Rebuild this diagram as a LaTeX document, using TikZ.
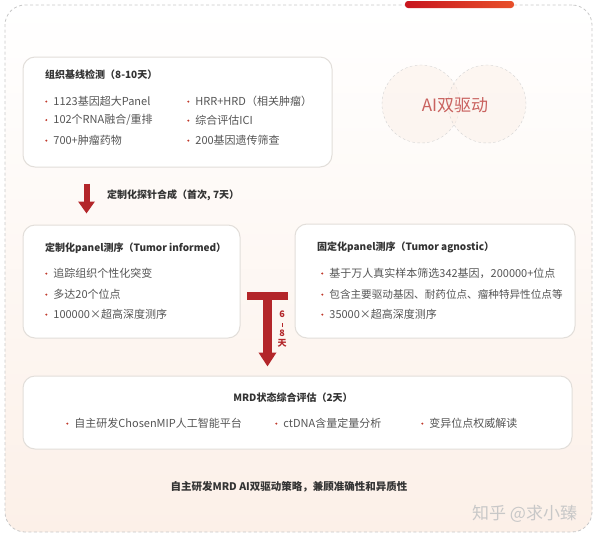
\documentclass[tikz,border=0pt]{standalone}
\usepackage{fontspec}
\setmainfont{Noto Sans CJK SC}
\usetikzlibrary{arrows.meta,positioning}

\definecolor{darkred}{HTML}{B3262A}
\definecolor{dotred}{HTML}{C0392B}
\definecolor{tabdark}{HTML}{C8161E}
\definecolor{taborange}{HTML}{E8502A}
\definecolor{airose}{HTML}{C9625F}
\definecolor{cream}{HTML}{FCF0E8}
\definecolor{framegray}{HTML}{C8C8C8}
\definecolor{boxgray}{HTML}{E2DEDA}
\definecolor{titletext}{HTML}{333333}
\definecolor{itemtext}{HTML}{555555}

\newcommand{\reddot}{\tikz[baseline=-0.6ex]\fill[dotred] (0,0) circle (1.1pt);\hspace{6pt}}

\begin{document}
\begin{tikzpicture}[x=1pt,y=-1pt]

	\tikzstyle{frame} = [rectangle,rounded corners=20pt,draw=framegray,dashed,dash pattern=on 3pt off 2.5pt,line width=0.8pt,top color=white,bottom color=cream,inner sep=0pt]
	\tikzstyle{panel} = [rectangle,rounded corners=12pt,draw=boxgray,line width=1pt,fill=white,inner sep=0pt]
	\tikzstyle{venn} = [circle,draw=framegray!80,dashed,dash pattern=on 2.5pt off 2.5pt,fill=cream,fill opacity=0.5,minimum size=78pt,inner sep=0pt]
	\tikzstyle{title} = [anchor=west,inner sep=0pt,text=titletext,font=\bfseries\fontsize{10}{12}\selectfont]
	\tikzstyle{item} = [anchor=west,inner sep=0pt,text=itemtext,font=\fontsize{11}{13}\selectfont]
	\tikzstyle{flecha} = [darkred,line width=6pt,-{Triangle[width=16pt,length=12pt]}]
	\tikzstyle{tflecha} = [darkred,line width=9pt,{Rectangle[length=8pt,width=41pt]}-{Triangle[width=17pt,length=14pt]}]

	\useasboundingbox (0,0) rectangle (600,539);

	% outer frame and top tab
	\node[frame,minimum width=587pt,minimum height=527pt] (frame) at (298.5,268.5) {};
	\shade[left color=tabdark,right color=taborange,rounded corners=3pt] (405,1) rectangle (514,8);

	% tissue baseline
	\node[panel,minimum width=309pt,minimum height=110pt] (base) at (177.5,112) {};
	\node[title] (baset) at (45,75) {组织基线检测（8-10天）};
	\node[item] (b1) at (45,101) {\reddot 1123基因超大Panel};
	\node[item] (b2) at (45,120) {\reddot 102个RNA融合/重排};
	\node[item] (b3) at (45,140) {\reddot 700+肿瘤药物};
	\node[item] (b4) at (187,101) {\reddot HRR+HRD（相关肿瘤）};
	\node[item] (b5) at (187,120) {\reddot 综合评估ICI};
	\node[item] (b6) at (187,140) {\reddot 200基因遗传筛查};

	% AI
	\node[venn] (c1) at (421,104) {};
	\node[venn] (c2) at (487,104) {};
	\node[text=airose,font=\fontsize{17}{20}\selectfont] (ai) at (455,105) {AI双驱动};

	% custom panel
	\node[panel,minimum width=217pt,minimum height=113pt] (custom) at (131.5,281.5) {};
	\node[title] (customt) at (45,248) {定制化panel测序（Tumor informed）};
	\node[item] (d1) at (45,273) {\reddot 追踪组织个性化突变};
	\node[item] (d2) at (45,294) {\reddot 多达20个位点};
	\node[item] (d3) at (45,314) {\reddot 100000×超高深度测序};

	% fixed panel
	\node[panel,minimum width=280pt,minimum height=114pt] (fixed) at (435,281) {};
	\node[title] (fixedt) at (317,247) {固定化panel测序（Tumor agnostic）};
	\node[item] (f1) at (321,273) {\reddot 基于万人真实样本筛选342基因，200000+位点};
	\node[item,font=\fontsize{10.6}{13}\selectfont] (f2) at (321,294) {\reddot 包含主要驱动基因、耐药位点、瘤种特异性位点等};
	\node[item] (f3) at (321,314) {\reddot 35000×超高深度测序};

	% MRD
	\node[panel,minimum width=549pt,minimum height=73pt] (mrd) at (297.5,412.5) {};
	\node[title,anchor=center] (mrdt) at (293,398) {MRD状态综合评估（2天）};
	\node[item] (m1) at (66,423) {\reddot 自主研发ChosenMIP人工智能平台};
	\node[item] (m2) at (275,423) {\reddot ctDNA含量定量分析};
	\node[item] (m3) at (421,423) {\reddot 变异位点权威解读};

	% arrows
	\coordinate (a1) at (86.5,183);
	\draw[flecha,shorten <=16pt,shorten >=11pt] (base.south -| a1) -- (custom.north -| a1);
	\node[title] (a1t) at (107,195) {定制化探针合成（首次, 7天）};

	\coordinate (ttop) at (267.5,292);
	\draw[tflecha,shorten >=9pt] (ttop) -- (mrd.north -| ttop);
	\node[text=darkred,align=center,inner sep=0pt,font=\bfseries\fontsize{9}{9.5}\selectfont] (days) at (282,329) {6\\\rule{0.9pt}{4.5pt}\\8\\天};

	% summary
	\node[title,anchor=center,font=\bfseries\fontsize{10.5}{12}\selectfont] (sum) at (289,487) {自主研发MRD AI双驱动策略，兼顾准确性和异质性};
	\node[text=framegray,anchor=west,inner sep=0pt,font=\fontsize{17}{20}\selectfont] (wm) at (472,514) {知乎 @求小臻};

\end{tikzpicture}
\end{document}
